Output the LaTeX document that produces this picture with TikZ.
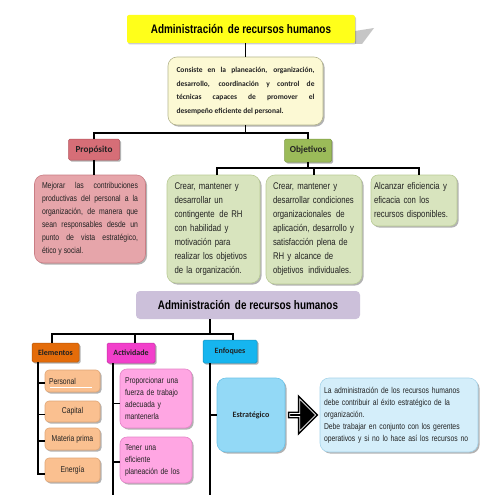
\documentclass[tikz,border=0pt]{standalone}
\usepackage{fontspec}
\setmainfont{Liberation Sans}
\newfontfamily\narrowfont[FakeStretch=0.8]{Liberation Sans}
\newfontfamily\calfont{Carlito}
\usetikzlibrary{shapes.arrows,shadows,calc}
\definecolor{titleY}{HTML}{FFFF1A}
\definecolor{descF}{HTML}{FCF9D4}
\definecolor{descD}{HTML}{B5B58E}
\definecolor{propH}{HTML}{D66E77}
\definecolor{propHD}{HTML}{B5545D}
\definecolor{propB}{HTML}{E6A5AA}
\definecolor{propBD}{HTML}{C97D84}
\definecolor{objH}{HTML}{9BBB59}
\definecolor{objHD}{HTML}{7E9A45}
\definecolor{objB}{HTML}{D8E4BE}
\definecolor{objBD}{HTML}{B9CB96}
\definecolor{titleL}{HTML}{CCC0DA}
\definecolor{elemH}{HTML}{E46C0A}
\definecolor{actH}{HTML}{F23FCB}
\definecolor{enfH}{HTML}{16B5EF}
\definecolor{elemB}{HTML}{FAC090}
\definecolor{elemBD}{HTML}{E0A676}
\definecolor{actB}{HTML}{FFA6E3}
\definecolor{actBD}{HTML}{E484C8}
\definecolor{estrB}{HTML}{93D9F6}
\definecolor{estrBD}{HTML}{6CC3E8}
\definecolor{blueB}{HTML}{D4EEFA}
\definecolor{blueBD}{HTML}{A6D4EA}
\definecolor{txt}{HTML}{222222}
\begin{document}
\begin{tikzpicture}[x=1pt,y=-1pt,
  conn/.style={line width=1.7pt, black},
  shad/.style={drop shadow={shadow xshift=1.6pt,shadow yshift=-1.6pt,opacity=0.3,fill=black}},
  box/.style={rounded corners=9pt, inner sep=0pt, shad, draw, line width=0.6pt, text=txt},
  headbox/.style={rounded corners=1.5pt, inner sep=0pt, shad, draw, line width=0.5pt, text=txt,
     font={\calfont\bfseries\fontsize{9.2}{10}\selectfont}},
  smallhead/.style={headbox, font={\calfont\bfseries\fontsize{8}{9}\selectfont}},
  titlebox/.style={inner sep=0pt, rounded corners=2pt, font={\narrowfont\bfseries\fontsize{12.4}{14}\selectfont}, text=black},
  greentxt/.style={font={\narrowfont\fontsize{9.7}{14}\selectfont}, align=left},
  smalltxt/.style={font={\narrowfont\fontsize{8.5}{12}\selectfont}, align=left},
  itemtxt/.style={font={\narrowfont\fontsize{8.5}{10}\selectfont}}
]
\useasboundingbox[fill=white] (0,0) rectangle (495,495);

% ---------- upper part ----------
\fill[gray!45] (355,31) -- (374,28) -- (362,44) -- (355,44) -- cycle;
\node[titlebox, fill=titleY, minimum width=228pt, minimum height=28pt,
  drop shadow={shadow xshift=1pt,shadow yshift=-1.5pt,opacity=0.2,fill=black}] (t1) at (241,29)
  {Administración\, de recursos humanos};

\node[box, fill=descF, draw=descD, minimum width=155pt, minimum height=68pt,
  text width=138pt, align=justify, font={\calfont\bfseries\fontsize{7.5}{13.7}\selectfont}] (desc) at (245.5,91)
  {Consiste en la planeación, organización,\linebreak desarrollo, coordinación y control de\linebreak técnicas capaces de promover el\linebreak desempeño eficiente del personal.};

\node[headbox, fill=propH, draw=propHD, minimum width=51pt, minimum height=21pt] (prop) at (94,149.5) {Propósito};
\node[headbox, fill=objH, draw=objHD, minimum width=47pt, minimum height=23pt] (obj) at (308,150.5) {Objetivos};

\node[box, fill=propB, draw=propBD, minimum width=111pt, minimum height=88pt,
  text width=96pt, align=justify, font={\narrowfont\fontsize{8.6}{13}\selectfont}] (ptext) at (90,219)
  {Mejorar las contribuciones\linebreak productivas del personal a la\linebreak organización, de manera que\linebreak sean responsables desde un\linebreak punto de vista estratégico,\linebreak ético y social.};

\node[box, greentxt, fill=objB, draw=objBD, minimum width=93pt, minimum height=108pt, text width=78pt] (o1) at (213.5,229)
  {Crear, mantener y\\desarrollar un\\contingente\, de RH\\con habilidad y\\motivación para\\realizar los objetivos\\de la organización.};
\node[box, greentxt, fill=objB, draw=objBD, minimum width=96pt, minimum height=109pt, text width=82pt] (o2) at (314,229.5)
  {Crear, mantener y\\desarrollar condiciones\\organizacionales\, de\\aplicación, desarrollo y\\satisfacción plena de\\RH y alcance de\\objetivos\, individuales.};
\node[box, greentxt, fill=objB, draw=objBD, minimum width=86pt, minimum height=51pt, text width=80pt, rounded corners=7pt] (o3) at (414,200.5)
  {Alcanzar eficiencia y\\eficacia con los\\recursos disponibles.};

\draw[conn] (desc.north |- t1.south) -- (desc.north);
\draw[conn] (desc.south) -- ++(0,8) -| (prop.north);
\draw[conn] (desc.south) -- ++(0,8) -| (obj.north);
\draw[conn] (prop.south) -- (prop.south |- ptext.north);
\draw[conn] (obj.south) -- ++(0,5.5) -| ([xshift=3.5pt]o1.north);
\draw[conn] (obj.south) -- ++(0,5.5) -| (o2.north);
\draw[conn] (obj.south) -- ++(0,5.5) -| ([xshift=5pt]o3.north);

% ---------- lower part ----------
\node[titlebox, fill=titleL, minimum width=224pt, minimum height=28pt, rounded corners=4pt] (t2) at (248,305) {Administración\, de recursos humanos};

\node[smallhead, fill=elemH, draw=elemH!80!black, minimum width=47pt, minimum height=19pt] (elem) at (55.5,352.5) {Elementos};
\node[smallhead, fill=actH, draw=actH!80!black, minimum width=48pt, minimum height=20pt] (act) at (131,353) {Actividade};
\node[smallhead, fill=enfH, draw=enfH!80!black, minimum width=54pt, minimum height=23pt] (enf) at (230,351.5) {Enfoques};

\draw[conn] ([xshift=-38pt]t2.south) -- ++(0,15) -| ([xshift=-3.5pt]elem.north);
\draw[conn] ([xshift=-38pt]t2.south) -- ++(0,15) -| ([xshift=4pt]act.north);
\draw[conn] ([xshift=-38pt]t2.south) -- ++(0,15) -| ([xshift=3pt]enf.north);

% Elementos items
\node[box, itemtxt, fill=elemB, draw=elemBD, rounded corners=4pt, minimum width=55pt, minimum height=22pt, text width=47pt, align=left] (pers) at (72.5,381) {Personal};
\draw[white, line width=1.2pt] (50,387.5) -- (92,387.5);
\node[box, itemtxt, fill=elemB, draw=elemBD, rounded corners=4pt, minimum width=55pt, minimum height=21pt] (cap) at (72.5,411.5) {Capital};
\node[box, itemtxt, fill=elemB, draw=elemBD, rounded corners=4pt, minimum width=55pt, minimum height=22pt] (mat) at (72.5,439) {Materia prima};
\node[box, itemtxt, fill=elemB, draw=elemBD, rounded corners=4pt, minimum width=55pt, minimum height=24pt] (ene) at (72.5,470) {Energía};

\draw[conn] ([xshift=-17.5pt]elem.south) |- ([yshift=-2pt]pers.west);
\draw[conn] ([xshift=-17.5pt]elem.south) |- ([yshift=-3pt]cap.west);
\draw[conn] ([xshift=-17.5pt]elem.south) |- ([yshift=-2pt]mat.west);
\draw[conn] ([xshift=-17.5pt]elem.south) |- ([yshift=-4pt]ene.west);

% Actividade items
\node[box, smalltxt, fill=actB, draw=actBD, rounded corners=7pt, minimum width=72pt, minimum height=59pt, text width=62pt] (a1) at (156,398.5)
  {Proporcionar una\\fuerza de trabajo\\adecuada y\\mantenerla};
\node[box, smalltxt, fill=actB, draw=actBD, rounded corners=7pt, minimum width=72pt, minimum height=46pt, text width=62pt] (a2) at (156,460)
  {Tener una\\eficiente\\planeación de los};
\coordinate (actend) at (113,495);
\draw[conn] ([xshift=-18pt]act.south) -- (actend);
\draw[conn] ([xshift=-18pt]act.south) |- ([yshift=-5pt]a1.west);
\draw[conn] ([xshift=-18pt]act.south) |- ([yshift=-2pt]a2.west);

% Enfoques
\node[box, fill=estrB, draw=estrBD, rounded corners=9pt, minimum width=68pt, minimum height=74pt,
  font={\calfont\bfseries\fontsize{8.1}{9}\selectfont}] (estr) at (251,415) {Estratégico};
\coordinate (enfend) at (210,495);
\draw[conn] ([xshift=-20pt]enf.south) -- (enfend);
\draw[conn] ([xshift=-20pt]enf.south) |- (estr.west);

\node[single arrow, draw=black, fill=black, line width=1.6pt, double=white, double distance=0.7pt,
  minimum height=26pt, minimum width=32pt, single arrow head extend=8pt, single arrow head indent=0pt,
  inner sep=0pt] (arr) at (302,415) {};

\node[box, smalltxt, fill=blueB, draw=blueBD, rounded corners=9pt, minimum width=158pt, minimum height=74pt, text width=150pt] (bdesc) at (399,415)
  {La administración de los recursos humanos\\debe contribuir al éxito estratégico de la\\organización.\\Debe trabajar en conjunto con los gerentes\\operativos y si no lo hace así los recursos no};
\end{tikzpicture}
\end{document}
